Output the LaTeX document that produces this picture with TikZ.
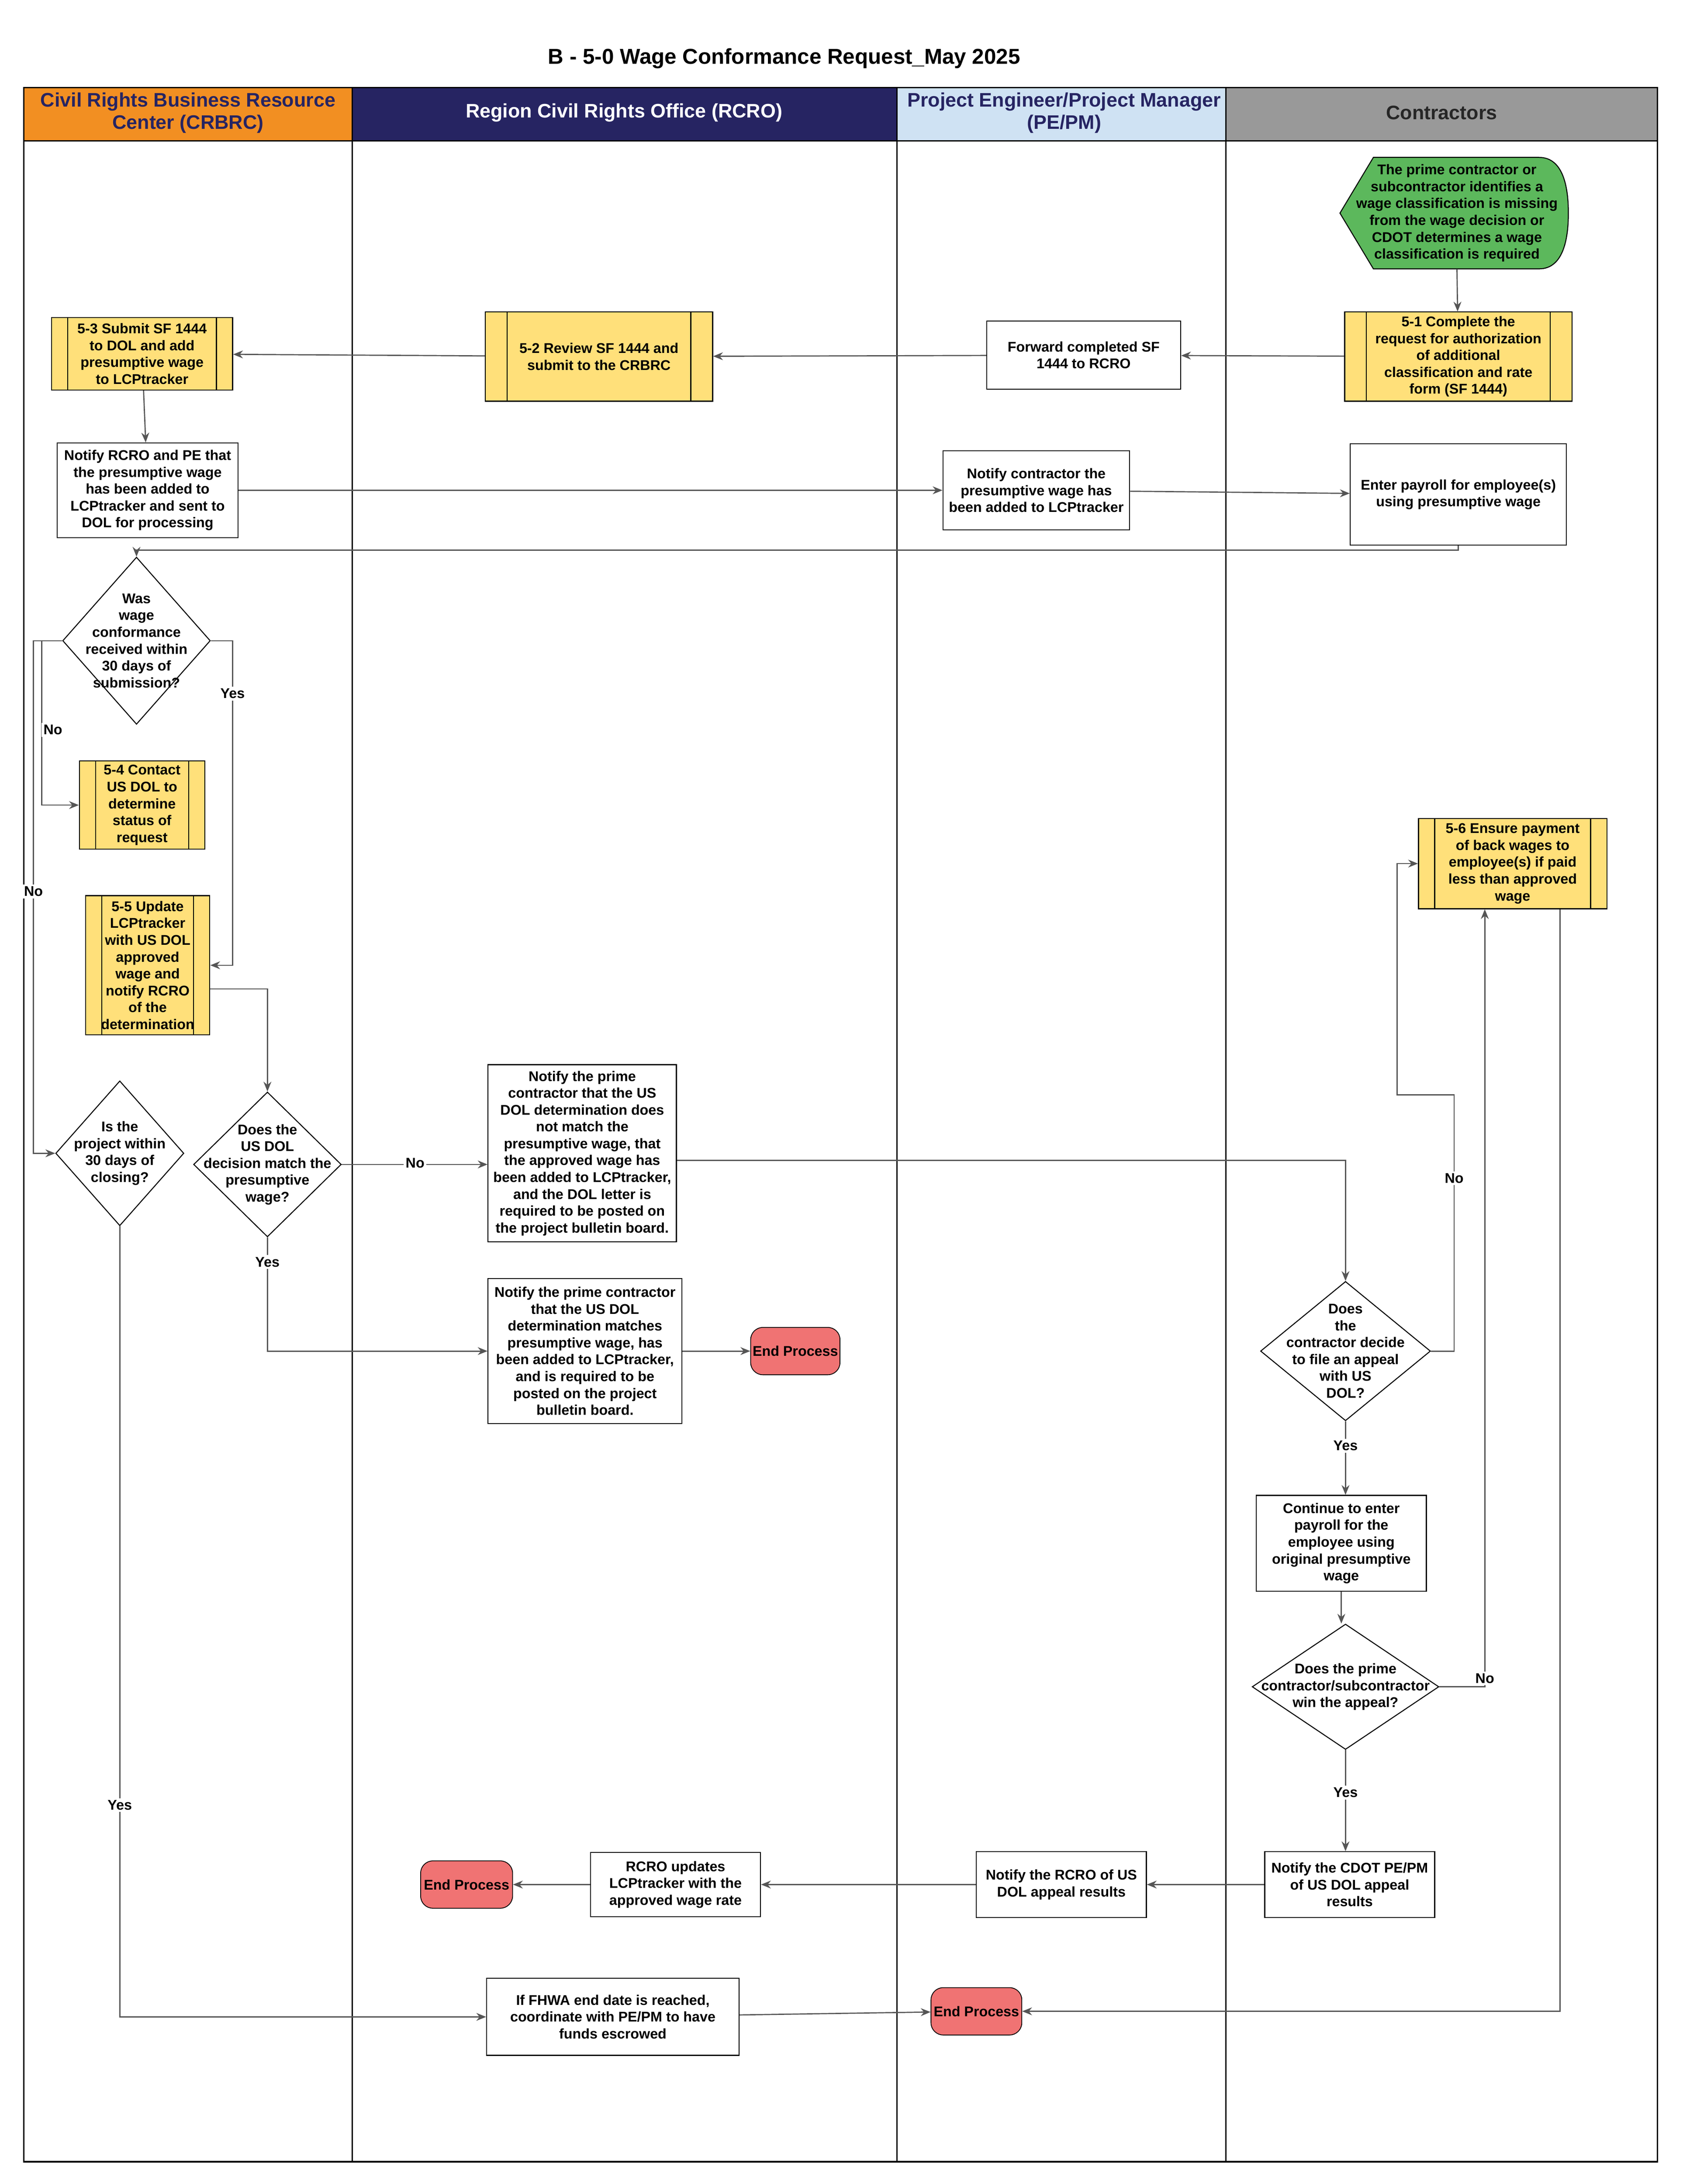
\documentclass[tikz,border=0pt]{standalone}
\usepackage{fontspec}
\setmainfont{Liberation Sans}
\usepackage{xcolor}
\usetikzlibrary{shapes,arrows.meta,positioning}
\definecolor{crbrc}{HTML}{F28F22}
\definecolor{rcro}{HTML}{262462}
\definecolor{pepm}{HTML}{CFE2F3}
\definecolor{contr}{HTML}{999999}
\definecolor{procyel}{HTML}{FFE07A}
\definecolor{startgr}{HTML}{5CB85C}
\definecolor{endred}{HTML}{F07373}
\definecolor{linegr}{HTML}{555555}

\tikzset{
  txt/.style={font=\fontsize{7.2}{8.6}\selectfont\bfseries, align=center, inner sep=1pt},
  box/.style={txt, draw=black, fill=white, line width=0.5pt},
  proc/.style={box, fill=procyel},
  dia/.style={draw=black, fill=white, diamond, inner sep=0pt, line width=0.5pt},
  endp/.style={txt, draw=black, fill=endred, rounded corners=2.2mm, minimum height=0.85cm},
  hdr/.style={font=\fontsize{10}{11.5}\selectfont\bfseries, align=center, inner sep=0pt},
  flow/.style={draw=linegr, line width=0.6pt, -{Stealth[length=5pt,width=4pt]}},
  lbl/.style={font=\fontsize{7.2}{8.6}\selectfont\bfseries, fill=white, inner sep=1pt}
}

\begin{document}
\begin{tikzpicture}[x=0.025cm, y=-0.025cm]
    \useasboundingbox (0,0) rectangle (1208,1568);
    \fill[white] (0,0) rectangle (1208,1568);

    % Title and lanes
    \node[hdr, font=\fontsize{11}{13}\selectfont\bfseries] (title) at (563,42) {B - 5-0 Wage Conformance Request\_May 2025};
    \fill[crbrc] (17,63) rectangle (253,101);
    \fill[rcro] (253,63) rectangle (644,101);
    \fill[pepm] (644,63) rectangle (880,101);
    \fill[contr] (880,63) rectangle (1190,101);
    \node[hdr, text=rcro] (h_crbrc) at (135,81) {Civil Rights Business Resource\\Center (CRBRC)};
    \node[hdr, text=white] (h_rcro) at (448,81) {Region Civil Rights Office (RCRO)};
    \node[hdr, text=rcro] (h_pepm) at (764,81) {Project Engineer/Project Manager\\(PE/PM)};
    \node[hdr, text=black!85] (h_contr) at (1035,81) {Contractors};
    \draw[line width=0.7pt] (17,63) rectangle (1190,1552);
    \draw[line width=0.7pt] (17,101) -- (1190,101);
    \foreach \lx in {253,644,880}
        \draw[line width=0.7pt] (\lx,63) -- (\lx,1552);

    % Start
    \fill[startgr, draw=black, line width=0.5pt] (962,153) -- (986,113) -- (1105,113)
        to[out=0,in=90] (1126,153) to[out=-90,in=0] (1105,193) -- (986,193) -- cycle;
    \node[txt, minimum height=2cm] (start) at (1046,153) {The prime contractor or\\subcontractor identifies a\\wage classification is missing\\from the wage decision or\\CDOT determines a wage\\classification is required};

    % Process boxes
    \node[proc, minimum width=4.08cm, minimum height=1.6cm] (p51) at (1047,256) {5-1 Complete the\\request for authorization\\of additional\\classification and rate\\form (SF 1444)};
    \node[box, minimum width=3.48cm, minimum height=1.22cm] (fwd) at (778,255) {Forward completed SF\\1444 to RCRO};
    \node[proc, minimum width=4.08cm, minimum height=1.6cm] (p52) at (430,256) {5-2 Review SF 1444 and\\submit to the CRBRC};
    \node[proc, minimum width=3.25cm, minimum height=1.3cm] (p53) at (102,254) {5-3 Submit SF 1444\\to DOL and add\\presumptive wage\\to LCPtracker};
    \node[box, minimum width=3.25cm, minimum height=1.7cm] (notify_dol) at (106,352) {Notify RCRO and PE that\\the presumptive wage\\has been added to\\LCPtracker and sent to\\DOL for processing};
    \node[box, minimum width=3.35cm, minimum height=1.42cm] (notify_con) at (744,352) {Notify contractor the\\presumptive wage has\\been added to LCPtracker};
    \node[box, minimum width=3.88cm, minimum height=1.82cm] (enter_pay) at (1047,355) {Enter payroll for employee(s)\\using presumptive wage};

    \node[dia, minimum width=2.65cm, minimum height=3cm] (d_recv) at (98,460) {};
    \node[txt] at (d_recv) {Was\\wage\\conformance\\received within\\30 days of\\submission?};

    \node[proc, minimum width=2.25cm, minimum height=1.58cm] (p54) at (102,578) {5-4 Contact\\US DOL to\\determine\\status of\\request};
    \node[proc, minimum width=2.23cm, minimum height=2.5cm] (p55) at (106,693) {5-5 Update\\LCPtracker\\with US DOL\\approved\\wage and\\notify RCRO\\of the\\determination};

    \node[dia, minimum width=2.65cm, minimum height=2.6cm] (d_match) at (192,836) {};
    \node[txt] at (d_match) {Does the\\US DOL\\decision match the\\presumptive\\wage?};
    \node[dia, minimum width=2.3cm, minimum height=2.6cm] (d_close) at (86,828) {};
    \node[txt] at (d_close) {Is the\\project within\\30 days of\\closing?};

    \node[box, minimum width=3.38cm, minimum height=3.18cm] (notify_no) at (418,828) {Notify the prime\\contractor that the US\\DOL determination does\\not match the\\presumptive wage, that\\the approved wage has\\been added to LCPtracker,\\and the DOL letter is\\required to be posted on\\the project bulletin board.};
    \node[box, minimum width=3.48cm, minimum height=2.6cm] (notify_yes) at (420,970) {Notify the prime contractor\\that the US DOL\\determination matches\\presumptive wage, has\\been added to LCPtracker,\\and is required to be\\posted on the project\\bulletin board.};
    \node[endp, minimum width=1.6cm] (end_a) at (571,970) {End Process};

    \node[dia, minimum width=3.05cm, minimum height=2.5cm] (d_appeal) at (966,970) {};
    \node[txt] at (d_appeal) {Does\\the\\contractor decide\\to file an appeal\\with US\\DOL?};
    \node[proc, minimum width=3.38cm, minimum height=1.62cm] (p56) at (1086,620) {5-6 Ensure payment\\of back wages to\\employee(s) if paid\\less than approved\\wage};
    \node[box, minimum width=3.05cm, minimum height=1.72cm] (cont_pay) at (963,1108) {Continue to enter\\payroll for the\\employee using\\original presumptive\\wage};
    \node[dia, minimum width=3.35cm, minimum height=2.25cm] (d_win) at (966,1211) {};
    \node[txt] at (d_win) {Does the prime\\contractor/subcontractor\\win the appeal?};

    \node[box, minimum width=3.05cm, minimum height=1.18cm] (notify_cdot) at (969,1353) {Notify the CDOT PE/PM\\of US DOL appeal\\results};
    \node[box, minimum width=3.05cm, minimum height=1.18cm] (notify_rcro) at (762,1353) {Notify the RCRO of US\\DOL appeal results};
    \node[box, minimum width=3.05cm, minimum height=1.15cm] (rcro_upd) at (485,1353) {RCRO updates\\LCPtracker with the\\approved wage rate};
    \node[endp, minimum width=1.65cm] (end_b) at (335,1353) {End Process};
    \node[box, minimum width=4.53cm, minimum height=1.38cm] (fhwa) at (440,1448) {If FHWA end date is reached,\\coordinate with PE/PM to have\\funds escrowed};
    \node[endp, minimum width=1.63cm] (end_c) at (701,1444) {End Process};

    % Bars of predefined processes
    \foreach \p in {p51,p52}
        \draw[line width=0.5pt] ([xshift=0.4cm]\p.north west) -- ([xshift=0.4cm]\p.south west)
            ([xshift=-0.4cm]\p.north east) -- ([xshift=-0.4cm]\p.south east);
    \foreach \p in {p53,p54,p55,p56}
        \draw[line width=0.5pt] ([xshift=0.3cm]\p.north west) -- ([xshift=0.3cm]\p.south west)
            ([xshift=-0.3cm]\p.north east) -- ([xshift=-0.3cm]\p.south east);

    % Connectors
    \draw[flow] (start.south) -- (p51);
    \draw[flow] (p51) -- (fwd);
    \draw[flow] (fwd) -- (p52);
    \draw[flow] (p52) -- (p53);
    \draw[flow] (p53) -- (notify_dol);
    \draw[flow] (notify_dol) -- (notify_con);
    \draw[flow] (notify_con) -- (enter_pay);
    \draw[flow] (enter_pay.south) |- (98,395) -- (d_recv.north);
    \draw[flow] (d_recv.west) -| (30,578) -- (p54.west);
    \draw[flow] (d_recv.west) -| (24,828) -- (d_close.west);
    \draw[flow] (d_recv.east) -| (167,693) -- (p55.east |- 0,693);
    \draw[flow] (p55.east |- 0,710) -| (d_match.north);
    \draw[flow] (d_match.east) -- (notify_no.west |- d_match);
    \draw[flow] (notify_no.east |- 0,833) -| (d_appeal.north);
    \draw[flow] (d_match.south) |- (notify_yes.west);
    \draw[flow] (notify_yes) -- (end_a);
    \draw[flow] (d_appeal.east) -| (1044,786) -| (1003,620) -- (p56.west);
    \draw[flow] (d_appeal.south) -- (cont_pay.north -| d_appeal);
    \draw[flow] (cont_pay.south) -- (d_win.north -| cont_pay);
    \draw[flow] (d_win.east) -| (p56.south -| 1066,0);
    \draw[flow] (d_win.south) -- (notify_cdot.north -| d_win);
    \draw[flow] (notify_cdot) -- (notify_rcro);
    \draw[flow] (notify_rcro) -- (rcro_upd);
    \draw[flow] (rcro_upd) -- (end_b);
    \draw[flow] (p56.south -| 1120,0) |- (end_c.east);
    \draw[flow] (d_close.south) |- (fhwa.west);
    \draw[flow] (fhwa) -- (end_c);

    % Connector labels
    \node[lbl] (l_no1) at (38,524) {No};
    \node[lbl] (l_no2) at (24,640) {No};
    \node[lbl] (l_yes1) at (167,498) {Yes};
    \node[lbl] (l_no3) at (298,835) {No};
    \node[lbl] (l_yes2) at (192,906) {Yes};
    \node[lbl] (l_no4) at (1044,846) {No};
    \node[lbl] (l_yes3) at (966,1038) {Yes};
    \node[lbl] (l_no5) at (1066,1205) {No};
    \node[lbl] (l_yes4) at (966,1287) {Yes};
    \node[lbl] (l_yes5) at (86,1296) {Yes};
\end{tikzpicture}
\end{document}
